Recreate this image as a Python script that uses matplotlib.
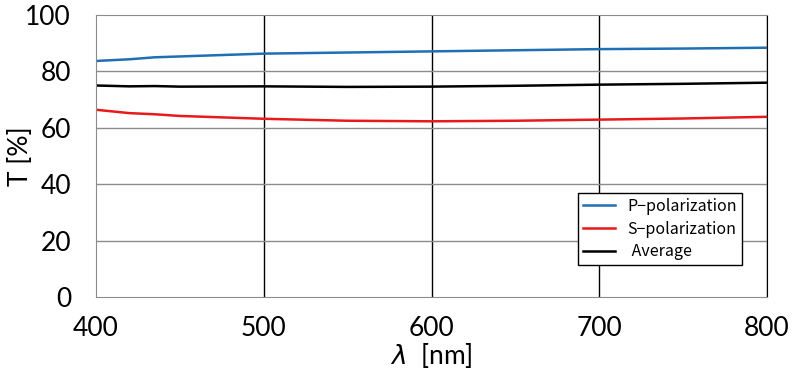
import matplotlib
matplotlib.use("Agg")
import matplotlib.pyplot as plt

wl = [400, 420, 435, 450, 500, 550, 600, 650, 700, 750, 800]
p_pol = [83.7, 84.3, 85.0, 85.3, 86.3, 86.7, 87.1, 87.5, 87.9, 88.1, 88.4]
s_pol = [66.4, 65.2, 64.8, 64.2, 63.2, 62.5, 62.3, 62.5, 62.9, 63.3, 63.9]
avg = [75.0, 74.7, 74.8, 74.6, 74.7, 74.5, 74.6, 74.9, 75.3, 75.6, 76.0]

fig = plt.figure(figsize=(8.05, 3.86), dpi=100)
ax = fig.add_axes([96/805, 1-297/386, (767-96)/805, (297-15)/386])

ax.plot(wl, p_pol, color="#1f6fb5", lw=1.8, label="P\u2212polarization")
ax.plot(wl, s_pol, color="#e8191b", lw=1.8, label="S\u2212polarization")
ax.plot(wl, avg, color="black", lw=1.8, label=" Average")

ax.set_xlim(400, 800)
ax.set_ylim(0, 100)
ax.set_xticks([400, 500, 600, 700, 800])
ax.set_yticks([0, 20, 40, 60, 80, 100])
for x in [500, 600, 700, 800]:
    ax.axvline(x, color="black", lw=1.0, zorder=0)
for y in [20, 40, 60, 80]:
    ax.axhline(y, color="#8c8c8c", lw=1.0, zorder=0)
for s in ["left", "bottom", "top"]:
    ax.spines[s].set_color("#8c8c8c")
ax.spines["right"].set_color("black")
ax.tick_params(length=0, labelsize=19)
ax.tick_params(axis="y", pad=18)
ax.tick_params(axis="x", pad=14)
for lab in ax.get_xticklabels() + ax.get_yticklabels():
    lab.set_family("Lato")
ax.set_ylabel("T [%]", fontsize=19, family="Lato")
ax.yaxis.set_label_coords((33-96)/671, 0.5)
ax.set_xlabel("$\\lambda$  [nm]", fontsize=19, family="Lato", labelpad=0)

leg = ax.legend(loc="lower right", bbox_to_anchor=((750-96)/671, (297-273)/282),
                frameon=True, fancybox=False, edgecolor="black", framealpha=1,
                prop={"family": ["Noto Sans CJK JP", "DejaVu Sans"], "size": 11.5},
                handlelength=2.0, borderpad=0.3, labelspacing=0.35)
leg.get_frame().set_linewidth(1.0)

fig.savefig("out.png", dpi=100)
